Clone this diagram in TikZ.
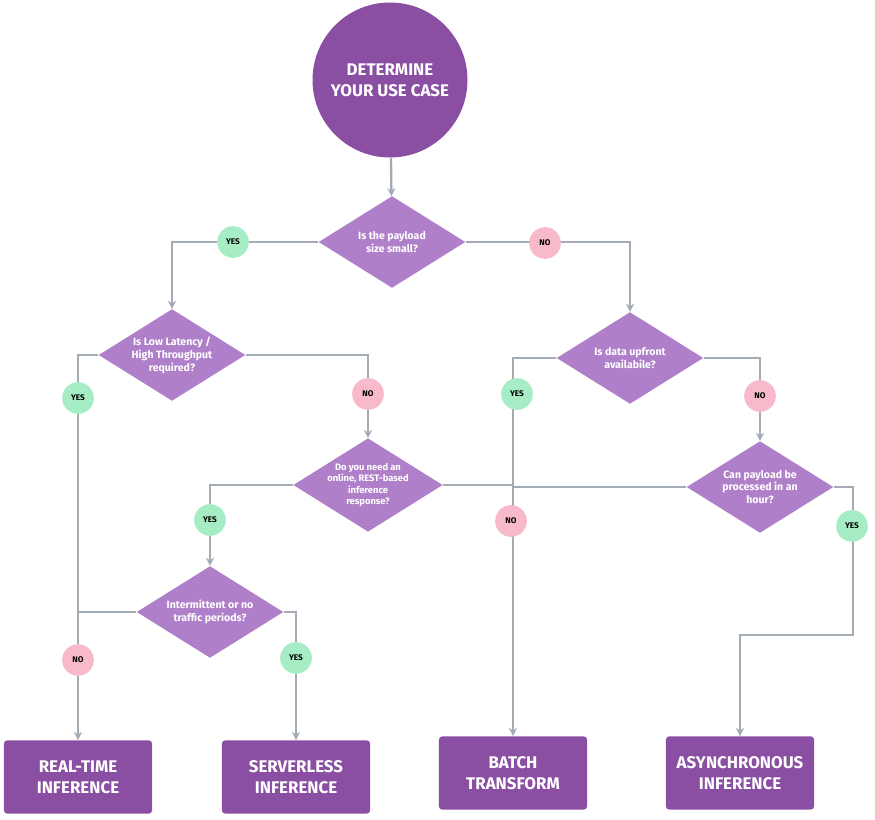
\documentclass[tikz,border=0pt]{standalone}
\usepackage{fontspec}
\setmainfont{Fira Sans}
\usetikzlibrary{shapes.geometric,arrows.meta}
\definecolor{darkplum}{HTML}{8A4FA3}
\definecolor{lightplum}{HTML}{B07FC9}
\definecolor{linegray}{HTML}{A3ACB5}
\definecolor{yesgreen}{HTML}{A6EDC6}
\definecolor{nopink}{HTML}{F8BACA}

\begin{document}
\begin{tikzpicture}[x=0.03cm,y=-0.03cm,
        line/.style={draw=linegray,line width=2pt},
        arrow/.style={line,-{Stealth[length=7pt,width=7pt]}},
        question/.style={diamond,fill=lightplum,text=white,inner sep=0pt,
            minimum width=4.4cm,minimum height=2.75cm,aspect=1.6,
            align=center,font=\small\bfseries},
        result/.style={rectangle,rounded corners=3pt,fill=darkplum,text=white,
            minimum width=4.45cm,minimum height=2.2cm,align=center,
            font=\Large\bfseries},
        yes/.style={circle,fill=yesgreen,minimum size=0.95cm,inner sep=0pt,
            font=\scriptsize\bfseries},
        no/.style={circle,fill=nopink,minimum size=0.95cm,inner sep=0pt,
            font=\scriptsize\bfseries}]

    \useasboundingbox (0,0) rectangle (875,820);

    % start and questions
    \node[circle,fill=darkplum,text=white,minimum size=4.65cm,align=center,
        font=\Large\bfseries] (start) at (390,80) {DETERMINE\\YOUR USE CASE};
    \node[question] (size) at (392,242) {Is the payload\\size small?};
    \node[question] (latency) at (172,355) {Is Low Latency /\\High Throughput\\required?};
    \node[question] (upfront) at (630,358) {Is data upfront\\availabile?};
    \node[question,font=\footnotesize\bfseries] (online) at (368,485) {Do you need an\\online, REST-based\\inference\\response?};
    \node[question] (hour) at (760,487) {Can payload be\\processed in an\\hour?};
    \node[question] (traffic) at (210,612) {Intermittent or no\\traffic periods?};

    % results
    \node[result] (realtime) at (78,777) {REAL-TIME\\INFERENCE};
    \node[result] (serverless) at (296,777) {SERVERLESS\\INFERENCE};
    \node[result] (batch) at (513,773) {BATCH\\TRANSFORM};
    \node[result] (async) at (740,773) {ASYNCHRONOUS\\INFERENCE};
    \coordinate (turn) at (853,635);

    % connectors
    \draw[arrow] (start) -- (size);
    \draw[arrow] (size.west) -| (latency.north);
    \draw[arrow] (size.east) -| (upfront.north);
    \draw[arrow] (latency.west) -| (realtime.north);
    \draw[arrow] (latency.east) -| (online.north);
    \draw[arrow] (upfront.west) -| (batch.north);
    \draw[arrow] (upfront.east) -| (hour.north);
    \draw[arrow] (online.west) -| (traffic.north);
    \draw[line] (online.east) -- (online.east -| batch.north);
    \draw[line] (hour.west) -- (hour.west -| batch.north);
    \draw[arrow] (hour.east) -| (turn) -| (async.north);
    \draw[line] (traffic.west) -- (traffic.west -| realtime.north);
    \draw[arrow] (traffic.east) -| (serverless.north);

    % answers
    \node[yes] (y1) at (233,242) {YES};
    \node[no] (n1) at (545,243) {NO};
    \node[yes] (y2) at (78,398) {YES};
    \node[no] (n2) at (368,394) {NO};
    \node[yes] (y3) at (517,394) {YES};
    \node[no] (n3) at (760,396) {NO};
    \node[yes] (y4) at (210,520) {YES};
    \node[no] (n4) at (511,521) {NO};
    \node[yes] (y5) at (852,526) {YES};
    \node[no] (n6) at (78,660) {NO};
    \node[yes] (y6) at (296,658) {YES};

\end{tikzpicture}
\end{document}
